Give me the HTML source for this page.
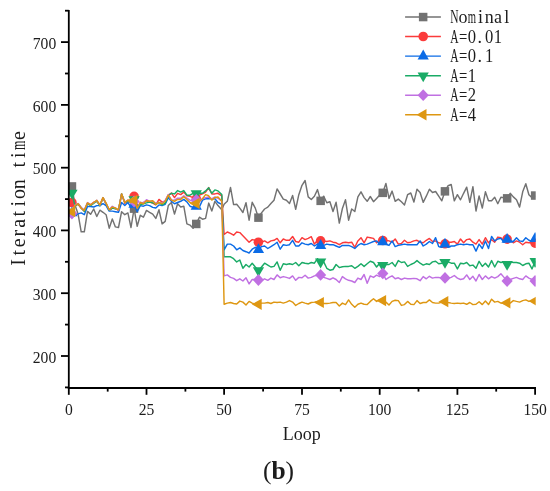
<!DOCTYPE html>
<html lang="en"><head><meta charset="utf-8"><title>Iteration time vs Loop (b)</title>
<style>html,body{margin:0;padding:0;background:#fff}svg{display:block}text{font-family:"Liberation Serif",serif;fill:#1c1c1c}</style>
</head><body>
<svg width="550" height="491" viewBox="0 0 550 491" role="img" aria-label="Iteration time versus Loop for Nominal, A=0.01, A=0.1, A=1, A=2 and A=4 (b)">
<desc>Line chart (b): Iteration time versus Loop. Series: Nominal, A=0.01, A=0.1, A=1, A=2, A=4.</desc>
<rect width="550" height="491" fill="#fff"/>
<defs><clipPath id="plot"><rect x="68.8" y="5" width="466.9" height="383"/></clipPath></defs>
<g clip-path="url(#plot)" fill="none" stroke-linejoin="round">
<polyline points="71.9,186.5 75,204.9 78.1,214.1 81.2,231.8 84.3,231.8 87.5,211.4 90.6,214.3 93.7,209 96.8,216.5 99.9,210.2 103,212.3 106.1,214.7 109.2,228.2 112.3,219 115.4,226.9 118.5,227.5 121.6,211.7 124.8,214.7 127.9,212.9 131,227.5 134.1,208.7 137.2,226.3 140.3,215.3 143.4,217.2 146.5,210.4 149.6,212.3 152.7,214.1 155.8,218.4 159,209.8 162.1,223.9 165.2,221.4 168.3,205.6 171.4,202.5 174.5,214.1 177.6,203.7 180.7,207 183.8,206.2 186.9,223.9 190,225.1 193.1,228.2 196.3,223.9 199.4,217.2 202.5,219.2 205.6,218.4 208.7,203.1 211.8,211.1 214.9,201.3 218,205.6 221.8,209.8 224.1,204.2 227.3,201.3 230.5,187.5 233.6,204.6 236.7,204.2 239.8,208.1 242.9,212.5 246,202.7 249.1,220.2 252.2,202.3 255.3,208.1 258.4,217.7 261.5,212.9 264.6,209 267.8,207.1 270.9,203.5 274,200.3 277.1,188.9 280.2,194 283.3,199.1 286.4,200.3 289.5,203.5 292.6,195.5 295.7,209.3 298.8,194.7 302,185.3 305.1,180.5 308.2,196.9 311.3,199.5 314.4,196.2 317.5,189.6 320.6,200.8 323.7,196.2 326.8,202.7 329.9,201.7 333,211.5 336.1,202.3 339.3,223.1 342.4,208.5 345.5,199.8 348.6,220.2 351.7,209 354.8,211.5 357.9,196.9 361,191.8 364.1,197.6 367.2,201.3 370.3,196.5 373.5,201.7 376.6,198.4 379.7,195 382.8,192.8 385.9,183.4 389,198.4 392.1,191.1 395.2,201.3 398.3,199.1 401.4,201.7 404.5,204.9 407.6,194.7 410.8,193 413.9,202 417,189.2 420.1,192.5 423.2,202.3 426.3,196.2 429.4,189.2 432.5,192.5 435.6,191.5 438.7,196.2 441.8,200.8 445,191.3 448.1,185.7 451.2,184.5 454.3,200.8 457.4,194.7 460.5,199.8 463.6,193.3 466.7,187.2 469.8,202.3 472.9,186.7 476,211 479.1,195.9 482.3,208.1 485.4,191.8 488.5,200.8 491.6,200.8 494.7,197.3 497.8,203.7 500.9,197.3 504,197.6 507.1,198.3 510.2,193.3 513.3,196.9 516.5,199.8 519.6,207.1 522.7,191.8 525.8,183.8 528.9,194.7 532,197.6 535.1,195.6" stroke="#727272" stroke-width="1.45"/>
<rect x="67.7" y="182.2" width="8.5" height="8.5" fill="#727272"/>
<rect x="129.8" y="204.4" width="8.5" height="8.5" fill="#727272"/>
<rect x="192" y="219.7" width="8.5" height="8.5" fill="#727272"/>
<rect x="254.2" y="213.4" width="8.5" height="8.5" fill="#727272"/>
<rect x="316.4" y="196.6" width="8.5" height="8.5" fill="#727272"/>
<rect x="378.5" y="188.6" width="8.5" height="8.5" fill="#727272"/>
<rect x="440.7" y="187.1" width="8.5" height="8.5" fill="#727272"/>
<rect x="502.9" y="194.1" width="8.5" height="8.5" fill="#727272"/>
<rect x="530.9" y="191.3" width="8.5" height="8.5" fill="#727272"/>
<polyline points="71.9,202.5 75,205.7 78.1,204.3 81.2,208.3 84.3,211.1 87.5,203.5 90.6,204.8 93.7,202.3 96.8,201.3 99.9,205.1 103,197.7 106.1,204.3 109.2,210.3 112.3,208.1 115.4,208.5 118.5,210.5 121.6,194 124.8,203.2 127.9,201.1 131,203 134.1,196.3 137.2,208.8 140.3,203.2 143.4,202.5 146.5,200.6 149.6,202.1 152.7,203.1 155.8,204.9 159,199.4 162.1,202.1 165.2,201.3 168.3,195.2 171.4,193.1 174.5,197.6 177.6,193.3 180.7,194.6 183.8,192.1 186.9,195.8 190,196.4 193.1,197.6 196.3,199 199.4,195.2 202.5,193.9 205.6,192.1 208.7,187.6 211.8,193.9 214.9,193.9 218,193.3 221.8,195.8 224.1,234.5 227.3,232 230.5,233.3 233.6,235.2 236.7,232 239.8,232.6 242.9,235.8 246,239 249.1,242.2 252.2,239.6 255.3,240.3 258.4,242.2 261.5,242.2 264.6,240.9 267.8,242.8 270.9,240.9 274,240.3 277.1,238.4 280.2,242.8 283.3,239 286.4,240.3 289.5,240.3 292.6,236.5 295.7,241.5 298.8,242.2 302,237.7 305.1,239.6 308.2,238.4 311.3,236.7 314.4,244.1 317.5,240.3 320.6,240.9 323.7,240.9 326.8,241.5 329.9,240.9 333,242.2 336.1,242.8 339.3,244.7 342.4,242.8 345.5,242.2 348.6,242.8 351.7,242.2 354.8,247.3 357.9,240.9 361,237.7 364.1,242.8 367.2,237.1 370.3,237.7 373.5,238.4 376.6,242.8 379.7,239.6 382.8,240.5 385.9,240.3 389,240.9 392.1,242.2 395.2,239 398.3,244.1 401.4,243.5 404.5,240.3 407.6,242.8 410.8,242.2 413.9,240.9 417,240.3 420.1,242.2 423.2,242.8 426.3,240.3 429.4,238.4 432.5,241.5 435.6,240.9 438.7,242.8 441.8,243.5 445,243.8 448.1,242.2 451.2,242.2 454.3,241.5 457.4,244.1 460.5,239 463.6,242.8 466.7,239.6 469.8,239 472.9,242.2 476,244.1 479.1,239.6 482.3,244.1 485.4,237.7 488.5,242.8 491.6,239.6 494.7,242.2 497.8,237.1 500.9,237.7 504,240.9 507.1,239.1 510.2,240.3 513.3,242.8 516.5,240.9 519.6,242.2 522.7,244.7 525.8,242.2 528.9,242.8 532,242.8 535.1,243.2" stroke="#FB3B3B" stroke-width="1.45"/>
<circle cx="71.9" cy="202.5" r="4.8" fill="#FB3B3B"/>
<circle cx="134.1" cy="196.3" r="4.8" fill="#FB3B3B"/>
<circle cx="196.3" cy="199" r="4.8" fill="#FB3B3B"/>
<circle cx="258.4" cy="242.2" r="4.8" fill="#FB3B3B"/>
<circle cx="320.6" cy="240.9" r="4.8" fill="#FB3B3B"/>
<circle cx="382.8" cy="240.5" r="4.8" fill="#FB3B3B"/>
<circle cx="445" cy="243.8" r="4.8" fill="#FB3B3B"/>
<circle cx="507.1" cy="239.1" r="4.8" fill="#FB3B3B"/>
<circle cx="535.1" cy="243.2" r="4.8" fill="#FB3B3B"/>
<polyline points="71.9,213 75,215.3 78.1,213.9 81.2,212.9 84.3,214.7 87.5,206.5 90.6,206.5 93.7,207 96.8,205.6 99.9,205.6 103,203.7 106.1,205.6 109.2,211.1 112.3,211.1 115.4,211.7 118.5,212.3 121.6,202.5 124.8,205.6 127.9,202.5 131,207.4 134.1,204.5 137.2,211.7 140.3,205.6 143.4,206.2 146.5,204.9 149.6,205.6 152.7,207.4 155.8,208 159,204.9 162.1,205.6 165.2,204.3 168.3,197.6 171.4,201.3 174.5,203.7 177.6,202.5 180.7,201.3 183.8,199.4 186.9,201.9 190,206.2 193.1,207.4 196.3,206.5 199.4,207 202.5,200.1 205.6,198.8 208.7,198.8 211.8,198.8 214.9,198.8 218,202.5 221.8,204.3 224.1,249.8 227.3,244.1 230.5,244.1 233.6,246 236.7,249.8 239.8,247.9 242.9,250.5 246,251.7 249.1,253 252.2,249.2 255.3,247.3 258.4,249.8 261.5,246.6 264.6,246 267.8,248.5 270.9,246.6 274,244.7 277.1,242.2 280.2,249.2 283.3,244.7 286.4,245.4 289.5,244.7 292.6,240.3 295.7,246 298.8,246 302,242.8 305.1,244.1 308.2,244.7 311.3,243.5 314.4,246 317.5,244.1 320.6,245.7 323.7,245.4 326.8,244.1 329.9,244.7 333,244.7 336.1,246 339.3,247.3 342.4,245.4 345.5,245.4 348.6,245.4 351.7,246.6 354.8,248.5 357.9,245.4 361,243.5 364.1,244.7 367.2,244.1 370.3,242.8 373.5,241.5 376.6,240.9 379.7,244.1 382.8,241.9 385.9,244.1 389,245.4 392.1,240.9 395.2,246.6 398.3,245.4 401.4,244.7 404.5,244.1 407.6,244.7 410.8,244.7 413.9,244.7 417,244.7 420.1,240.9 423.2,246 426.3,244.1 429.4,241.5 432.5,243.5 435.6,237.7 438.7,246.6 441.8,247.3 445,244.3 448.1,247.3 451.2,246 454.3,246 457.4,244.7 460.5,244.1 463.6,244.7 466.7,244.1 469.8,244.7 472.9,244.7 476,251.1 479.1,244.1 482.3,248.5 485.4,240.9 488.5,248.5 491.6,236.5 494.7,240.9 497.8,239 500.9,238.4 504,242.2 507.1,239.5 510.2,240.9 513.3,241.5 516.5,237.7 519.6,240.9 522.7,241.5 525.8,237.7 528.9,240.3 532,241.5 535.1,238.6" stroke="#0B6BE6" stroke-width="1.45"/>
<polygon points="71.9,206.4 66.3,216.3 77.6,216.3" fill="#0B6BE6"/>
<polygon points="134.1,197.9 128.4,207.8 139.7,207.8" fill="#0B6BE6"/>
<polygon points="196.3,199.9 190.6,209.8 201.9,209.8" fill="#0B6BE6"/>
<polygon points="258.4,243.2 252.8,253.1 264.1,253.1" fill="#0B6BE6"/>
<polygon points="320.6,239.1 315,249 326.3,249" fill="#0B6BE6"/>
<polygon points="382.8,235.3 377.1,245.2 388.4,245.2" fill="#0B6BE6"/>
<polygon points="445,237.7 439.3,247.6 450.6,247.6" fill="#0B6BE6"/>
<polygon points="507.1,232.9 501.5,242.8 512.8,242.8" fill="#0B6BE6"/>
<polygon points="535.1,232 529.5,241.9 540.8,241.9" fill="#0B6BE6"/>
<polyline points="71.9,193 75,206.1 78.1,203.8 81.2,207.7 84.3,211.4 87.5,203.2 90.6,205.6 93.7,203.4 96.8,201 99.9,205.9 103,197.9 106.1,203.9 109.2,210.2 112.3,208.1 115.4,208.9 118.5,209.7 121.6,193.8 124.8,202.5 127.9,201.1 131,202.8 134.1,199.5 137.2,208.6 140.3,204.9 143.4,203.7 146.5,202.9 149.6,202.1 152.7,202.9 155.8,204.1 159,202.5 162.1,204.9 165.2,203.1 168.3,195.8 171.4,193.3 174.5,193.9 177.6,190.6 180.7,192.1 183.8,190.6 186.9,195.2 190,195.2 193.1,193.3 196.3,193.5 199.4,193.3 202.5,193.3 205.6,190.9 208.7,187.8 211.8,193.3 214.9,189.9 218,190.9 221.8,194.6 224.1,256.8 227.3,256.8 230.5,256.8 233.6,258.7 236.7,261.9 239.8,260 242.9,268.3 246,264.5 249.1,267 252.2,263.2 255.3,267 258.4,270.5 261.5,267 264.6,263.2 267.8,265.1 270.9,267 274,266.4 277.1,261.9 280.2,270.2 283.3,263.8 286.4,264.5 289.5,263.8 292.6,264.5 295.7,262.5 298.8,265.7 302,262.5 305.1,263.2 308.2,263.8 311.3,262.5 314.4,263.2 317.5,258.7 320.6,261.9 323.7,261.9 326.8,268.3 329.9,270.2 333,269.5 336.1,264.5 339.3,267.6 342.4,266.7 345.5,266.4 348.6,266.4 351.7,265.7 354.8,268.3 357.9,266.4 361,263.8 364.1,266.4 367.2,263.8 370.3,261.3 373.5,262.5 376.6,267 379.7,263.2 382.8,265.3 385.9,264.5 389,264.5 392.1,262.5 395.2,266.4 398.3,260.6 401.4,262.5 404.5,261.9 407.6,266.4 410.8,264.5 413.9,263.2 417,260.6 420.1,263.2 423.2,265.1 426.3,263.8 429.4,264.5 432.5,261.9 435.6,261.3 438.7,263.8 441.8,263.2 445,262.2 448.1,261.9 451.2,263.2 454.3,263.2 457.4,268.9 460.5,263.2 463.6,263.8 466.7,262.5 469.8,265.7 472.9,265.1 476,268.3 479.1,261.3 482.3,266.4 485.4,263.2 488.5,267 491.6,260.6 494.7,267 497.8,261.3 500.9,262.5 504,261.9 507.1,264.2 510.2,261.9 513.3,262.5 516.5,262.5 519.6,263.2 522.7,265.5 525.8,263.8 528.9,263.2 532,268.9 535.1,261.3" stroke="#1AAB66" stroke-width="1.45"/>
<polygon points="71.9,199.6 66.3,189.7 77.6,189.7" fill="#1AAB66"/>
<polygon points="134.1,206.1 128.4,196.2 139.7,196.2" fill="#1AAB66"/>
<polygon points="196.3,200.1 190.6,190.2 201.9,190.2" fill="#1AAB66"/>
<polygon points="258.4,277.1 252.8,267.2 264.1,267.2" fill="#1AAB66"/>
<polygon points="320.6,268.5 315,258.6 326.3,258.6" fill="#1AAB66"/>
<polygon points="382.8,271.9 377.1,262 388.4,262" fill="#1AAB66"/>
<polygon points="445,268.8 439.3,258.9 450.6,258.9" fill="#1AAB66"/>
<polygon points="507.1,270.8 501.5,260.9 512.8,260.9" fill="#1AAB66"/>
<polygon points="535.1,267.9 529.5,258 540.8,258" fill="#1AAB66"/>
<polyline points="71.9,213.5 75,204.9 78.1,203.4 81.2,207.5 84.3,209.9 87.5,202.6 90.6,204.7 93.7,202.7 96.8,200.2 99.9,205.2 103,197.8 106.1,203.4 109.2,209.7 112.3,206.3 115.4,208.2 118.5,210.1 121.6,194.2 124.8,202.2 127.9,200 131,201.7 134.1,201.5 137.2,208.1 140.3,202.2 143.4,203.1 146.5,199.7 149.6,201.4 152.7,201 155.8,203.4 159,202.6 162.1,203.2 165.2,200.4 168.3,194.5 171.4,200.1 174.5,200.1 177.6,198.2 180.7,198.2 183.8,195.8 186.9,198.2 190,200.1 193.1,201.3 196.3,200 199.4,200.1 202.5,198.8 205.6,197.6 208.7,197 211.8,198.8 214.9,197 218,198.2 221.8,201.3 224.1,275.9 227.3,274.9 230.5,277.4 233.6,278.4 236.7,280.7 239.8,278.8 242.9,281 246,277.8 249.1,283.9 252.2,279.5 255.3,279.5 258.4,280 261.5,280.3 264.6,278.8 267.8,280.3 270.9,278.1 274,279.5 277.1,274.9 280.2,277.8 283.3,276.6 286.4,277.4 289.5,278.4 292.6,275.9 295.7,280.3 298.8,277.4 302,277.8 305.1,275.2 308.2,278.1 311.3,277.4 314.4,275.9 317.5,275.2 320.6,274.9 323.7,277.4 326.8,278.4 329.9,279.5 333,277.8 336.1,279.5 339.3,282.5 342.4,276.6 345.5,278.8 348.6,280.3 351.7,281 354.8,282.5 357.9,278.1 361,279.5 364.1,274.5 367.2,283.2 370.3,275.9 373.5,277.4 376.6,275.2 379.7,276.6 382.8,273.4 385.9,279.5 389,277.4 392.1,275.9 395.2,278.8 398.3,277.8 401.4,279.5 404.5,278.1 407.6,278.8 410.8,278.8 413.9,278.4 417,278.8 420.1,280.7 423.2,276.6 426.3,278.8 429.4,276.3 432.5,278.1 435.6,277.4 438.7,277.4 441.8,278.1 445,277.9 448.1,278.1 451.2,277.4 454.3,275.5 457.4,278.1 460.5,279.5 463.6,278.8 466.7,274.9 469.8,279.5 472.9,276.3 476,281 479.1,274.5 482.3,279.5 485.4,275.9 488.5,278.8 491.6,276.6 494.7,278.1 497.8,276.6 500.9,273.7 504,277.4 507.1,281 510.2,279.5 513.3,278.4 516.5,277.4 519.6,278.8 522.7,279.5 525.8,275.9 528.9,278.1 532,279.5 535.1,281" stroke="#C070E2" stroke-width="1.45"/>
<polygon points="71.9,207.6 77.5,213.5 71.9,219.4 66.3,213.5" fill="#C070E2"/>
<polygon points="134.1,195.6 139.7,201.5 134.1,207.4 128.5,201.5" fill="#C070E2"/>
<polygon points="196.3,194.1 201.9,200 196.3,205.9 190.7,200" fill="#C070E2"/>
<polygon points="258.4,274.1 264,280 258.4,285.9 252.8,280" fill="#C070E2"/>
<polygon points="320.6,269 326.2,274.9 320.6,280.8 315,274.9" fill="#C070E2"/>
<polygon points="382.8,267.5 388.4,273.4 382.8,279.3 377.2,273.4" fill="#C070E2"/>
<polygon points="445,272 450.6,277.9 445,283.8 439.4,277.9" fill="#C070E2"/>
<polygon points="507.1,275.1 512.7,281 507.1,286.9 501.5,281" fill="#C070E2"/>
<polygon points="535.1,275.1 540.7,281 535.1,286.9 529.5,281" fill="#C070E2"/>
<polyline points="71.9,211.7 75,205.6 78.1,203.7 81.2,208 84.3,210.4 87.5,202.9 90.6,204.9 93.7,202.5 96.8,200.3 99.9,204.9 103,197.6 106.1,203.1 109.2,209.8 112.3,207.1 115.4,208 118.5,209.8 121.6,193.9 124.8,202.5 127.9,200.1 131,202.5 134.1,200.3 137.2,208 140.3,202.5 143.4,203.7 146.5,200.7 149.6,201.3 152.7,200.7 155.8,204.3 159,202.5 162.1,203.7 165.2,201.3 168.3,195.2 171.4,200.1 174.5,201.3 177.6,199.4 180.7,199.4 183.8,196.8 186.9,199.4 190,202.5 193.1,203.7 196.3,203.4 199.4,201.3 202.5,198.8 205.6,194.6 208.7,195.8 211.8,200.1 214.9,197.6 218,197 221.8,201.3 224.1,304.3 227.3,303.1 230.5,302.5 233.6,303.5 236.7,304 239.8,301.1 242.9,302.1 246,305 249.1,301.4 252.2,303.1 255.3,304.3 258.4,304.3 261.5,303.1 264.6,303.1 267.8,302.5 270.9,303.5 274,302.1 277.1,302.5 280.2,302.1 283.3,303.1 286.4,302.1 289.5,300.6 292.6,302.1 295.7,305.4 298.8,303.5 302,302.1 305.1,303.1 308.2,304 311.3,302.5 314.4,302.1 317.5,301.4 320.6,302.5 323.7,303.5 326.8,303.5 329.9,303.1 333,302.5 336.1,302.5 339.3,306 342.4,303.1 345.5,304.6 348.6,299.9 351.7,304.3 354.8,307.2 357.9,304.3 361,303.1 364.1,304.3 367.2,304.6 370.3,301.4 373.5,298.7 376.6,301.4 379.7,299.9 382.8,300.6 385.9,302.1 389,305 392.1,301.4 395.2,300.2 398.3,300.6 401.4,305.4 404.5,304.6 407.6,301.4 410.8,304.3 413.9,304.6 417,300.6 420.1,303.5 423.2,302.5 426.3,302.5 429.4,299.9 432.5,302.5 435.6,303.1 438.7,303.1 441.8,302.1 445,301.7 448.1,302.5 451.2,303.1 454.3,303.5 457.4,303.1 460.5,303.5 463.6,303.1 466.7,304.3 469.8,302.5 472.9,304.6 476,304.3 479.1,301.7 482.3,304.6 485.4,301.1 488.5,304.6 491.6,299.2 494.7,302.1 497.8,301.4 500.9,303.1 504,303.5 507.1,302.8 510.2,303.1 513.3,300.6 516.5,301.4 519.6,302.1 522.7,300.6 525.8,299.9 528.9,301.4 532,301.1 535.1,301.1" stroke="#DE9712" stroke-width="1.45"/>
<polygon points="65.3,211.7 75.2,206 75.2,217.3" fill="#DE9712"/>
<polygon points="127.5,200.3 137.4,194.7 137.4,206" fill="#DE9712"/>
<polygon points="189.7,203.4 199.6,197.8 199.6,209.1" fill="#DE9712"/>
<polygon points="251.8,304.3 261.7,298.7 261.7,309.9" fill="#DE9712"/>
<polygon points="314,302.5 323.9,296.9 323.9,308.1" fill="#DE9712"/>
<polygon points="376.2,300.6 386.1,295 386.1,306.2" fill="#DE9712"/>
<polygon points="438.4,301.7 448.3,296.1 448.3,307.3" fill="#DE9712"/>
<polygon points="500.5,302.8 510.4,297.2 510.4,308.4" fill="#DE9712"/>
<polygon points="528.5,301.1 538.4,295.5 538.4,306.8" fill="#DE9712"/>
</g>
<g stroke="#000" stroke-width="1.8" fill="none" stroke-linecap="butt">
<path d="M68.8,10.1V388.9"/>
<path d="M67.9,388H536"/>
<path d="M65,387.4H68.8"/>
<path d="M61,356H68.8"/>
<path d="M65,324.6H68.8"/>
<path d="M61,293.2H68.8"/>
<path d="M65,261.8H68.8"/>
<path d="M61,230.4H68.8"/>
<path d="M65,199.1H68.8"/>
<path d="M61,167.7H68.8"/>
<path d="M65,136.3H68.8"/>
<path d="M61,104.9H68.8"/>
<path d="M65,73.5H68.8"/>
<path d="M61,42.1H68.8"/>
<path d="M65,10.7H68.8"/>
<path d="M68.8,388V394.8"/>
<path d="M107.7,388V391.6"/>
<path d="M146.5,388V394.8"/>
<path d="M185.4,388V391.6"/>
<path d="M224.1,388V394.8"/>
<path d="M263.1,388V391.6"/>
<path d="M302,388V394.8"/>
<path d="M340.8,388V391.6"/>
<path d="M379.7,388V394.8"/>
<path d="M418.5,388V391.6"/>
<path d="M457.4,388V394.8"/>
<path d="M496.2,388V391.6"/>
<path d="M535.1,388V394.8"/>
</g>
<g font-size="17">
<text x="56.2" y="362.7" text-anchor="end" textLength="23.4" lengthAdjust="spacingAndGlyphs">200</text>
<text x="56.2" y="299.9" text-anchor="end" textLength="23.4" lengthAdjust="spacingAndGlyphs">300</text>
<text x="56.2" y="237.1" text-anchor="end" textLength="23.4" lengthAdjust="spacingAndGlyphs">400</text>
<text x="56.2" y="174.4" text-anchor="end" textLength="23.4" lengthAdjust="spacingAndGlyphs">500</text>
<text x="56.2" y="111.6" text-anchor="end" textLength="23.4" lengthAdjust="spacingAndGlyphs">600</text>
<text x="56.2" y="48.8" text-anchor="end" textLength="23.4" lengthAdjust="spacingAndGlyphs">700</text>
<text x="68.8" y="414.6" text-anchor="middle" textLength="7.8" lengthAdjust="spacingAndGlyphs">0</text>
<text x="146.5" y="414.6" text-anchor="middle" textLength="15.6" lengthAdjust="spacingAndGlyphs">25</text>
<text x="224.1" y="414.6" text-anchor="middle" textLength="15.6" lengthAdjust="spacingAndGlyphs">50</text>
<text x="302" y="414.6" text-anchor="middle" textLength="15.6" lengthAdjust="spacingAndGlyphs">75</text>
<text x="379.7" y="414.6" text-anchor="middle" textLength="23.4" lengthAdjust="spacingAndGlyphs">100</text>
<text x="457.4" y="414.6" text-anchor="middle" textLength="23.4" lengthAdjust="spacingAndGlyphs">125</text>
<text x="535.1" y="414.6" text-anchor="middle" textLength="23.4" lengthAdjust="spacingAndGlyphs">150</text>
</g>
<path d="M405.1,17H440.9" stroke="#727272" stroke-width="1.4" fill="none"/>
<rect x="418.9" y="12.8" width="8.5" height="8.5" fill="#727272"/>
<text font-size="18" transform="translate(450,23.1)" xml:space="preserve"><tspan x="0.2" textLength="8.3" lengthAdjust="spacingAndGlyphs">N</tspan><tspan x="8.6">o</tspan><tspan x="17.7" textLength="8.3" lengthAdjust="spacingAndGlyphs">m</tspan><tspan x="28">i</tspan><tspan x="34.7">n</tspan><tspan x="44">a</tspan><tspan x="54.2">l</tspan></text>
<path d="M405.1,36.5H440.9" stroke="#FB3B3B" stroke-width="1.4" fill="none"/>
<circle cx="423.2" cy="36.5" r="4.8" fill="#FB3B3B"/>
<text font-size="18" transform="translate(450,42.6)" xml:space="preserve"><tspan x="0.2" textLength="8.3" lengthAdjust="spacingAndGlyphs">A</tspan><tspan x="8.9" textLength="8.3" lengthAdjust="spacingAndGlyphs">=</tspan><tspan x="17.7" textLength="8.3" lengthAdjust="spacingAndGlyphs">0</tspan><tspan x="27.4">.</tspan><tspan x="35.1" textLength="8.3" lengthAdjust="spacingAndGlyphs">0</tspan><tspan x="43.8" textLength="8.3" lengthAdjust="spacingAndGlyphs">1</tspan></text>
<path d="M405.1,56.1H440.9" stroke="#0B6BE6" stroke-width="1.4" fill="none"/>
<polygon points="423.2,49.5 417.6,59.4 428.8,59.4" fill="#0B6BE6"/>
<text font-size="18" transform="translate(450,62.2)" xml:space="preserve"><tspan x="0.2" textLength="8.3" lengthAdjust="spacingAndGlyphs">A</tspan><tspan x="8.9" textLength="8.3" lengthAdjust="spacingAndGlyphs">=</tspan><tspan x="17.7" textLength="8.3" lengthAdjust="spacingAndGlyphs">0</tspan><tspan x="27.4">.</tspan><tspan x="35.1" textLength="8.3" lengthAdjust="spacingAndGlyphs">1</tspan></text>
<path d="M405.1,75.7H440.9" stroke="#1AAB66" stroke-width="1.4" fill="none"/>
<polygon points="423.2,82.2 417.6,72.4 428.8,72.4" fill="#1AAB66"/>
<text font-size="18" transform="translate(450,81.8)" xml:space="preserve"><tspan x="0.2" textLength="8.3" lengthAdjust="spacingAndGlyphs">A</tspan><tspan x="8.9" textLength="8.3" lengthAdjust="spacingAndGlyphs">=</tspan><tspan x="17.7" textLength="8.3" lengthAdjust="spacingAndGlyphs">1</tspan></text>
<path d="M405.1,95.2H440.9" stroke="#C070E2" stroke-width="1.4" fill="none"/>
<polygon points="423.2,89.3 428.8,95.2 423.2,101.1 417.6,95.2" fill="#C070E2"/>
<text font-size="18" transform="translate(450,101.3)" xml:space="preserve"><tspan x="0.2" textLength="8.3" lengthAdjust="spacingAndGlyphs">A</tspan><tspan x="8.9" textLength="8.3" lengthAdjust="spacingAndGlyphs">=</tspan><tspan x="17.7" textLength="8.3" lengthAdjust="spacingAndGlyphs">2</tspan></text>
<path d="M405.1,114.8H440.9" stroke="#DE9712" stroke-width="1.4" fill="none"/>
<polygon points="416.6,114.8 426.5,109.1 426.5,120.4" fill="#DE9712"/>
<text font-size="18" transform="translate(450,120.8)" xml:space="preserve"><tspan x="0.2" textLength="8.3" lengthAdjust="spacingAndGlyphs">A</tspan><tspan x="8.9" textLength="8.3" lengthAdjust="spacingAndGlyphs">=</tspan><tspan x="17.7" textLength="8.3" lengthAdjust="spacingAndGlyphs">4</tspan></text>
<text font-size="20" transform="translate(25.3,267.2) rotate(-90)" xml:space="preserve"><tspan x="1.5">I</tspan><tspan x="11.8">t</tspan><tspan x="19.9">e</tspan><tspan x="30.8">r</tspan><tspan x="39.4">a</tspan><tspan x="50.8">t</tspan><tspan x="60.6">i</tspan><tspan x="68.1">o</tspan><tspan x="77.9">n</tspan><tspan x="87.8"> </tspan><tspan x="99.6">t</tspan><tspan x="109.3">i</tspan><tspan x="117.2" textLength="9.3" lengthAdjust="spacingAndGlyphs">m</tspan><tspan x="127.2">e</tspan></text>
<text font-size="18.6" x="301.8" y="440.4" text-anchor="middle" textLength="38" lengthAdjust="spacingAndGlyphs">Loop</text>
<text font-size="25.5" x="278.5" y="478.6" fill="#000" text-anchor="middle">(<tspan font-weight="bold">b</tspan>)</text>
</svg></body></html>
